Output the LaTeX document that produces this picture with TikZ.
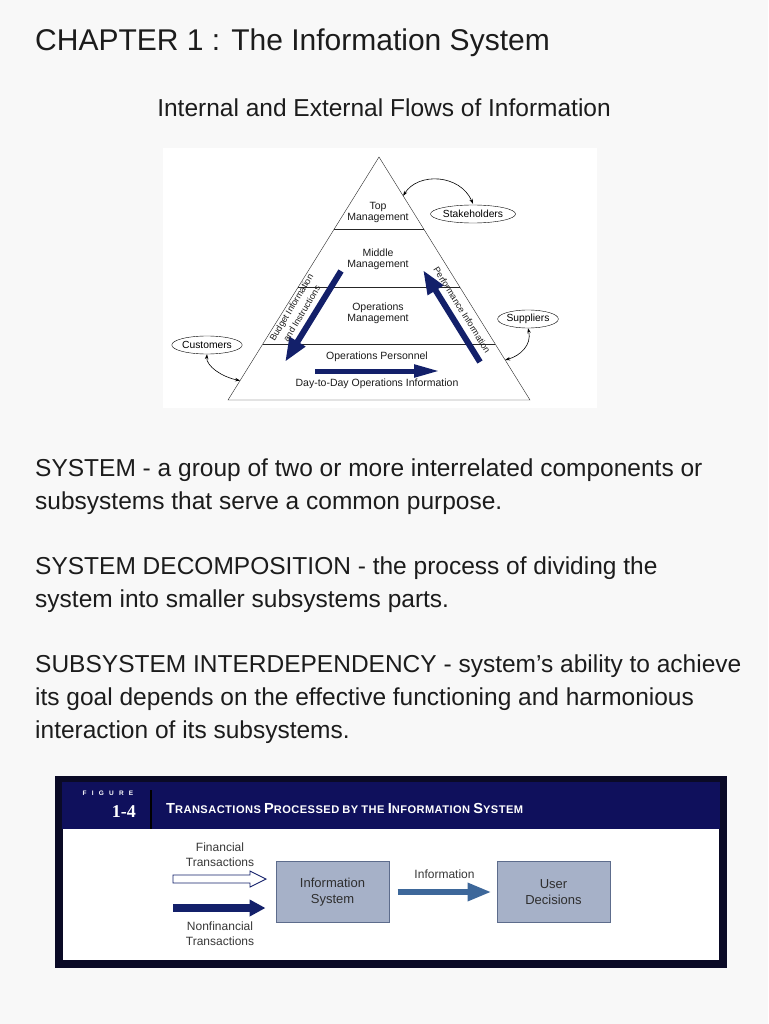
\documentclass[tikz,border=0pt]{standalone}
\usepackage{fontspec}
\setmainfont{Liberation Sans}
\newfontfamily\numfont{Liberation Serif}
\usetikzlibrary{positioning,arrows.meta,calc,shapes.geometric}

\definecolor{pagebg}{HTML}{F8F8F8}
\definecolor{txt}{HTML}{1C1C1C}
\definecolor{navy}{HTML}{13206A}
\definecolor{framedark}{HTML}{0A0A26}
\definecolor{headblue}{HTML}{0F105C}
\definecolor{boxfill}{HTML}{A6B1C8}
\definecolor{boxline}{HTML}{5D6C8C}
\definecolor{infoblue}{HTML}{3D679A}

\newcommand{\fsc}[2]{{\fontsize{14.6}{14.6}\selectfont #1}{\fontsize{11.1}{11.1}\selectfont #2}}

\tikzset{
  lvl/.style={font=\fontsize{10.5}{11}\selectfont, align=center, text=txt, inner sep=0pt},
  party/.style={ellipse, draw, thin, font=\fontsize{10.3}{11}\selectfont, inner sep=0pt, minimum height=18pt},
  flow/.style={line width=6pt, navy, -{Triangle[length=24pt,width=17pt]}},
  link/.style={semithick, {Stealth[length=5pt,width=3.5pt]}-{Stealth[length=5pt,width=3.5pt]}},
  slanted/.style={inner sep=0pt, text=txt, align=center, font=\fontsize{9}{12}\selectfont},
  para/.style={font=\fontsize{24.5}{24.5}\selectfont, anchor=base west, inner sep=0pt, text=txt},
  figlbl/.style={font=\fontsize{12}{15}\selectfont, align=center, text=black!78, inner sep=0pt},
  sysbox/.style={draw=boxline, fill=boxfill, line width=1pt, minimum width=113pt, minimum height=61pt,
    align=center, font=\fontsize{13}{16.5}\selectfont, text=black!82}
}

\begin{document}
\begin{tikzpicture}[x=1pt,y=-1pt]
  \fill[pagebg] (0,0) rectangle (768,1024);
  \useasboundingbox (0,0) rectangle (768,1024);

  \node[anchor=base west, inner sep=0pt, text=txt, font=\fontsize{30}{30}\selectfont] (title) at (35,51)
    {CHAPTER 1 : The Information System};
  \node[anchor=base, inner sep=0pt, text=txt, font=\fontsize{24.5}{24.5}\selectfont] (subtitle) at (384,117)
    {Internal and External Flows of Information};

  % pyramid
  \fill[white] (163,148) rectangle (597,408);
  \coordinate (apex) at (379,157);
  \coordinate (bl) at (228,400);
  \coordinate (br) at (530,400);
  \draw[black!85] (apex) -- (bl) -- (br) -- cycle;
  \foreach \t in {0.298,0.535,0.77} {\draw[black!85] ($(apex)!\t!(bl)$) -- ($(apex)!\t!(br)$);}

  \node[lvl] (top) at (378,212) {Top\\Management};
  \node[lvl] (mid) at (378,259) {Middle\\Management};
  \node[lvl] (opsmgmt) at (378,313) {Operations\\Management};
  \node[lvl] (staff) at (377,357) {Operations Personnel};
  \node[lvl] (daily) at (377,384) {Day-to-Day Operations Information};

  \coordinate (budgetA) at (341,271); \coordinate (budgetB) at (285,362);
  \coordinate (perfA) at (480,362);   \coordinate (perfB) at (423,270);
  \coordinate (dayA) at (315,371);    \coordinate (dayB) at (440,371);
  \draw[flow] (budgetA) -- (budgetB);
  \draw[flow] (perfA) -- (perfB);
  \draw[line width=5pt, navy, -{Triangle[length=26pt,width=12pt]}] (dayA) -- (dayB);

  \node[slanted, rotate=59] (budget) at (296.5,310.5) {Budget Information\\and Instructions};
  \node[slanted, rotate=-58] (perf) at (462,310) {Performance Information};

  \node[party, minimum width=77pt] (stake) at (473,214) {Stakeholders};
  \node[party, minimum width=58pt] (supp) at (528,319) {Suppliers};
  \node[party, minimum width=67pt] (cust) at (207,345) {Customers};

  \coordinate (stakeEdge) at ($(apex)!0.16!(br)$);
  \coordinate (suppEdge) at ($(apex)!0.835!(br)$);
  \coordinate (custEdge) at ($(apex)!0.92!(bl)$);
  \draw[link] (stakeEdge) .. controls (418,172) and (460,174) .. ([yshift=1pt]stake.north);
  \draw[link] (supp.south) .. controls (532,345) and (520,356) .. (suppEdge);
  \draw[link] (cust.south) .. controls (206,366) and (222,377) .. (custEdge);

  % body text
  \node[para] (l1) at (35,476) {SYSTEM - a group of two or more interrelated components or};
  \node[para] (l2) at (35,509) {subsystems that serve a common purpose.};
  \node[para] (l3) at (35,574) {SYSTEM DECOMPOSITION - the process of dividing the};
  \node[para] (l4) at (35,607) {system into smaller subsystems parts.};
  \node[para] (l5) at (35,672) {SUBSYSTEM INTERDEPENDENCY - system's ability to achieve};
  \node[para] (l6) at (35,705) {its goal depends on the effective functioning and harmonious};
  \node[para] (l7) at (35,738) {interaction of its subsystems.};

  % figure 1-4
  \fill[framedark] (55,776) rectangle (727,968);
  \fill[headblue] (62,782) rectangle (720,829);
  \fill[white] (63,829) rectangle (719,960);
  \node[text=white, inner sep=0pt, font=\fontsize{6.5}{7}\bfseries\addfontfeature{LetterSpace=80}\selectfont] (figword) at (108,793) {FIGURE};
  \node[text=white, inner sep=0pt, anchor=east, font=\numfont\bfseries\fontsize{18}{18}\selectfont] (fignum) at (136,812) {1-4};
  \draw[black, line width=1.5pt] (151,790) -- (151,829);
  \node[anchor=west, text=white, inner sep=0pt, font=\bfseries\addfontfeature{LetterSpace=4}] (figtitle) at (166,808)
    {\fsc{T}{RANSACTIONS} \fsc{P}{ROCESSED} \fsc{}{BY} \fsc{}{THE} \fsc{I}{NFORMATION} \fsc{S}{YSTEM}};

  \node[sysbox] (isys) at (332.5,892) {Information\\System};
  \node[sysbox] (user) at (553.5,892) {User\\Decisions};

  \node[figlbl] (fin) at (220,854.5) {Financial\\Transactions};
  \node[figlbl] (nonfin) at (220,933.5) {Nonfinancial\\Transactions};
  \coordinate (finS) at (173,879);
  \coordinate (nonS) at (173,908);
  \coordinate (nonT) at ($(isys.west)+(-10,16)$);
  \draw[navy, line width=0.9pt, fill=white] (finS) ++(0,-4) -- ++(77,0) -- ++(0,-4) -- ++(16,8)
    -- ++(-16,8) -- ++(0,-4) -- ++(-77,0) -- cycle;
  \draw[line width=8pt, navy, -{Triangle[length=16pt,width=16pt]}] (nonS) -- (nonT);

  \draw[line width=6.5pt, infoblue, -{Triangle[length=24pt,width=17pt]}] ([xshift=8pt]isys.east) -- ([xshift=-5pt]user.west)
    node[midway, above=10pt, figlbl] (infolbl) {Information};
\end{tikzpicture}
\end{document}
